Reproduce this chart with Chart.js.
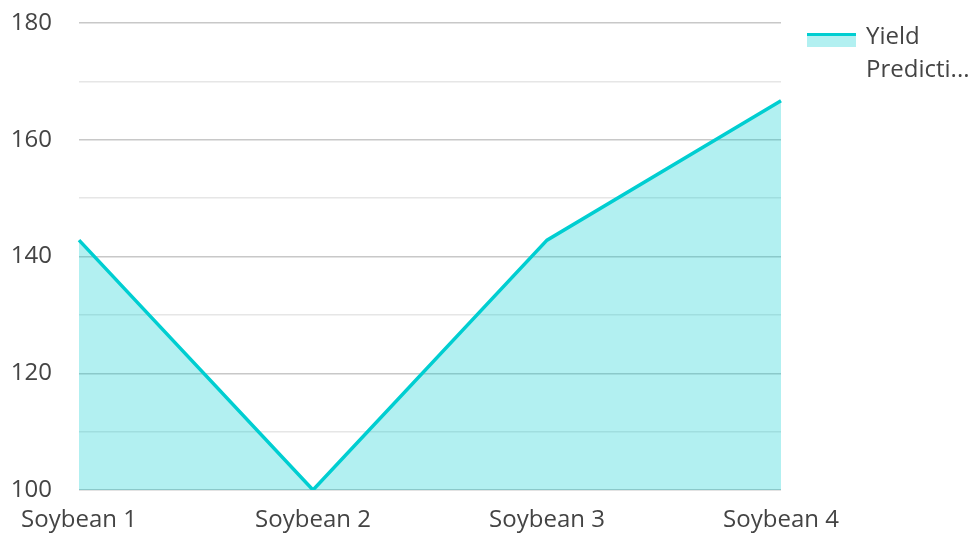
<!DOCTYPE html>
<html>

<head>
    <meta charset="utf-8" />
    <title>Yield Prediction</title>
    <style>
        html, body { margin: 0; padding: 0; background: #fff; }
        .wrap { position: relative; width: 973px; height: 533px; }
        .legend { position: absolute; left: 807px; top: 18px; font-family: "Open Sans", "Noto Sans", sans-serif;
                  font-size: 24px; line-height: 33px; color: #444; }
        .legend .box { position: absolute; left: 0; top: 15px; width: 49px; height: 11px;
                       border-top: 3px solid #00CED1; background: rgba(0, 206, 209, 0.3); }
        .legend .txt { position: absolute; left: 59px; top: 0; width: 120px; white-space: nowrap; }
    </style>
</head>

<body>
    <div class="wrap">
        <canvas id="chart" width="973" height="533"></canvas>
        <div class="legend">
            <span class="box"></span>
            <span class="txt">Yield<br>Predicti...</span>
        </div>
    </div>

    <script src="https://cdn.jsdelivr.net/npm/chart.js"></script>
    <script type="text/javascript">
        // datos del grafico
        const categorias = ['Soybean 1', 'Soybean 2', 'Soybean 3', 'Soybean 4'];
        const rendimiento = [142.8, 100, 142.8, 166.7];
        const nombreSerie = 'Yield Prediction';
        const ejeYMin = 100;
        const ejeYMax = 180;

        const fuente = { family: '"Open Sans", "Noto Sans", sans-serif', size: 24 };
        const ctx = document.getElementById('chart').getContext('2d');

        let myChart = new Chart(ctx, {
            type: 'line',
            data: {
                labels: categorias,
                datasets: [{
                    label: nombreSerie,
                    data: rendimiento,
                    borderColor: '#00CED1',
                    backgroundColor: 'rgba(0, 206, 209, 0.3)',
                    borderWidth: 3.5,
                    fill: 'start',
                    pointRadius: 0,
                    tension: 0
                }]
            },
            options: {
                responsive: false,
                animation: false,
                layout: { padding: { top: 0, right: 192, left: 0, bottom: 0 } },
                plugins: {
                    legend: { display: false },
                    tooltip: { enabled: false }
                },
                scales: {
                    x: {
                        offset: false,
                        grid: { display: false },
                        border: { display: false },
                        ticks: {
                            color: '#444',
                            padding: 8,
                            maxRotation: 0,
                            font: fuente
                        },
                        afterFit: function (scale) { scale.height = 43; }
                    },
                    y: {
                        min: ejeYMin,
                        max: ejeYMax,
                        border: { display: false },
                        grid: {
                            drawTicks: false,
                            lineWidth: 1.5,
                            color: function (c) {
                                return c.tick && c.tick.value % 20 === 0 ? '#c8c8c8' : '#e6e6e6';
                            }
                        },
                        ticks: {
                            stepSize: 10,
                            color: '#444',
                            padding: 27,
                            font: fuente,
                            callback: function (v) { return v % 20 === 0 ? v : ''; }
                        },
                        afterFit: function (scale) {
                            scale.width = 79;
                            // el padding de ticks empuja el area hacia abajo, se corrige aqui
                            scale.paddingTop = 23;
                            scale.paddingBottom = 0;
                        }
                    }
                }
            }
        });
    </script>

</body>

</html>
